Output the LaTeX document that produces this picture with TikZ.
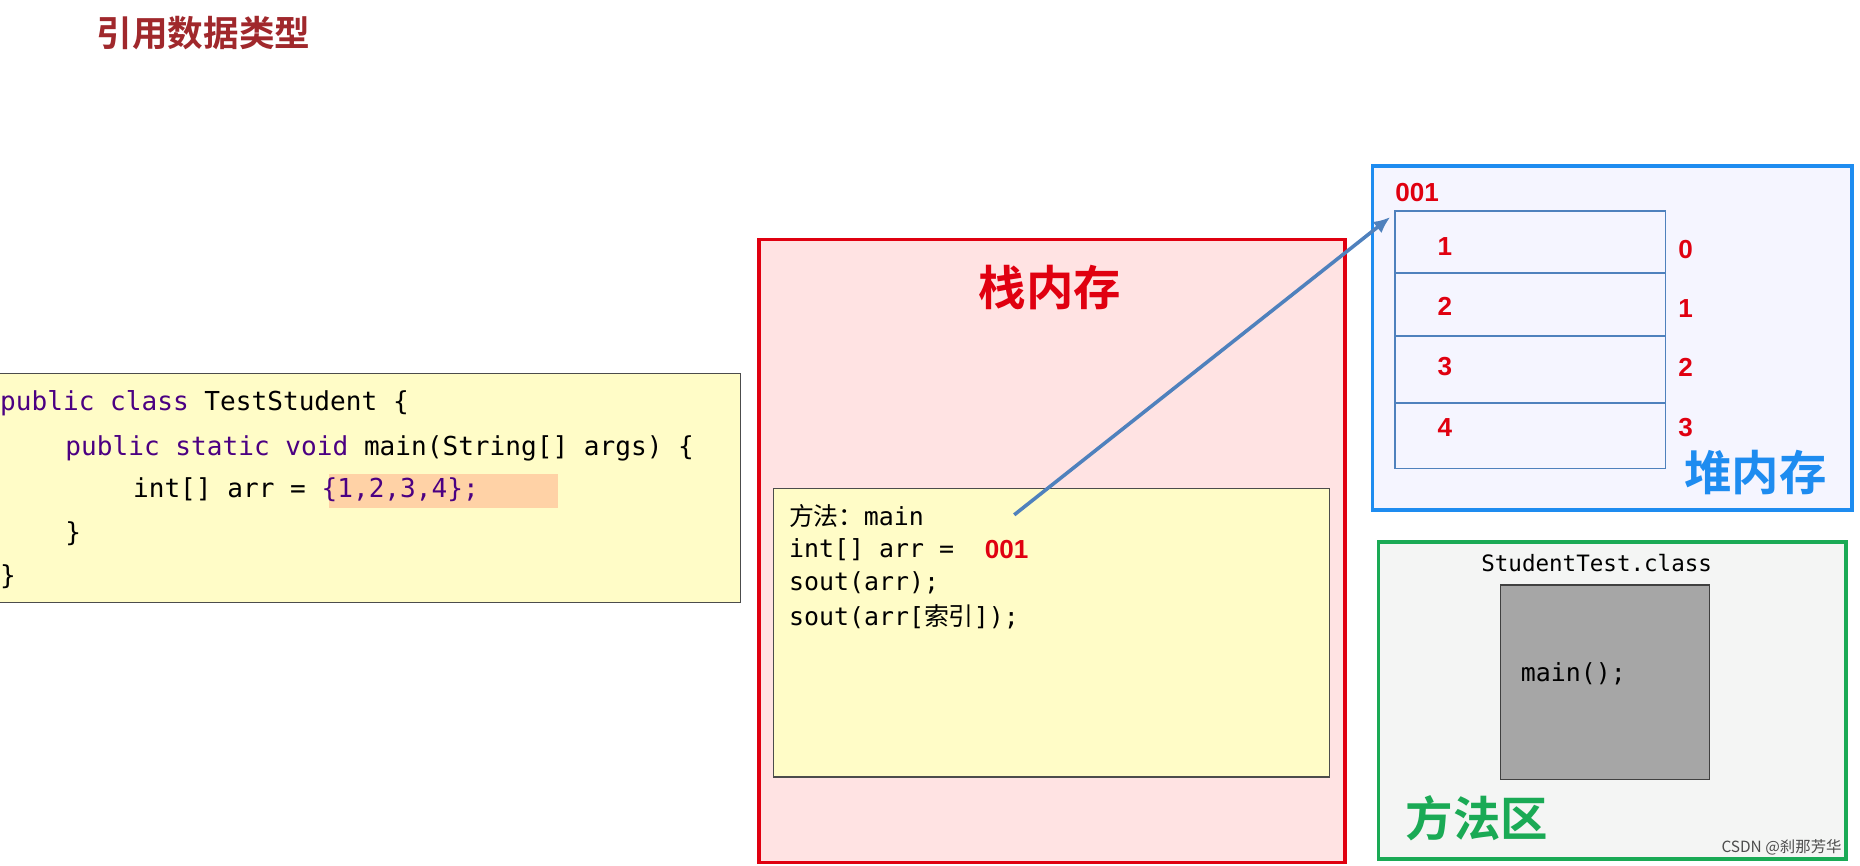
\documentclass[tikz,border=0pt]{standalone}
\usepackage{fontspec}
\setmainfont{Liberation Sans}
\setmonofont{DejaVu Sans Mono}
\newfontfamily\cjk{Noto Sans CJK SC}
\newfontfamily\cjkb{Noto Sans CJK SC Bold}
\usetikzlibrary{arrows.meta}
\definecolor{titlered}{HTML}{A0282C}
\definecolor{stackred}{HTML}{E00010}
\definecolor{heapblue}{HTML}{1E8CF0}
\definecolor{mgreen}{HTML}{1AAA55}
\definecolor{kw}{HTML}{4B0082}
\definecolor{arrowblue}{HTML}{4F81BD}
\tikzset{
  x=1pt,y=-1pt,
  code/.style={anchor=west,font=\fontsize{22}{24}\selectfont\ttfamily,inner sep=0},
  big/.style={font=\fontsize{40}{44}\selectfont\cjkb},
  redtxt/.style={text=stackred,font=\fontsize{22}{24}\selectfont\bfseries,inner sep=0},
  cell/.style={draw=arrowblue,line width=1.5pt},
}
\begin{document}
\begin{tikzpicture}
\useasboundingbox (0,0) rectangle (1568,730);
\node[text=titlered,font=\fontsize{30}{34}\selectfont\cjkb,anchor=west] (title) at (78,28) {引用数据类型};
% code box
\draw[fill=yellow!22,draw=black!70,line width=1.2pt] (-2,315) rectangle (624,508);
\fill[orange!35] (277,400) rectangle (470,428);
\node[code] (c1) at (0,340) {\textcolor{kw}{public class} TestStudent \{};
\node[code] (c2) at (55,378) {\textcolor{kw}{public static void} main(String[] args) \{};
\node[code] (c3) at (112,413) {int[] arr = \textcolor{kw}{\{1,2,3,4\};}};
\node[code] (c4) at (55,450) {\}};
\node[code] (c5) at (0,486) {\}};
% stack
\draw[fill=red!11,draw=stackred,line width=3pt] (640,202) rectangle (1134,727);
\node[big,text=stackred] (stk) at (885,242) {栈内存};
\draw[fill=yellow!22,draw=black!70,line width=1.2pt] (652,412) rectangle (1121,655);
\node[code,font=\fontsize{21}{24}\selectfont\ttfamily] (s1) at (665,435) {{\cjk 方法：}main};
\node[code,font=\fontsize{21}{24}\selectfont\ttfamily] (s2) at (665,463) {int[] arr =};
\node[redtxt,anchor=west] (s2v) at (830,463) {001};
\node[code,font=\fontsize{21}{24}\selectfont\ttfamily] (s3) at (665,491) {sout(arr);};
\node[code,font=\fontsize{21}{24}\selectfont\ttfamily] (s4) at (665,520) {sout(arr[{\cjk 索引}]);};
\coordinate (src) at (855,434);
% heap
\draw[fill=blue!4,draw=heapblue,line width=3pt] (1157,140) rectangle (1561,430);
\node[redtxt,anchor=west] (addr) at (1176,162) {001};
\draw[cell] (1176,178) rectangle (1404,230);
\draw[cell] (1176,230) rectangle (1404,283);
\draw[cell] (1176,283) rectangle (1404,340);
\draw[cell] (1176,340) rectangle (1404,395);
\node[redtxt] (v1) at (1218,208) {1};
\node[redtxt] (v2) at (1218,258) {2};
\node[redtxt] (v3) at (1218,309) {3};
\node[redtxt] (v4) at (1218,360) {4};
\node[redtxt] (i0) at (1421,210) {0};
\node[redtxt] (i1) at (1421,260) {1};
\node[redtxt] (i2) at (1421,310) {2};
\node[redtxt] (i3) at (1421,360) {3};
\coordinate (dst) at (1172,183);
\node[big,text=heapblue] (heap) at (1480,398) {堆内存};
% method area
\draw[fill=green!4!gray!8,draw=mgreen,line width=3pt] (1162,457) rectangle (1556,724);
\node[code,anchor=center,font=\fontsize{19}{22}\selectfont\ttfamily] (cls) at (1346,475) {StudentTest.class};
\draw[fill=black!35,draw=black!75,line width=1.2pt] (1265,493) rectangle (1441,657);
\node[code,font=\fontsize{21}{24}\selectfont\ttfamily] (mm) at (1282,568) {main();};
\node[big,text=mgreen] (ma) at (1245,690) {方法区};
\node[font=\fontsize{13}{15}\selectfont\cjk,text=black!70,anchor=east] (wm) at (1556,714) {CSDN @刹那芳华};
% arrow
\draw[-{Latex[length=14pt,width=12pt]},arrowblue,line width=3pt] (src) -- (dst);
\end{tikzpicture}
\end{document}
